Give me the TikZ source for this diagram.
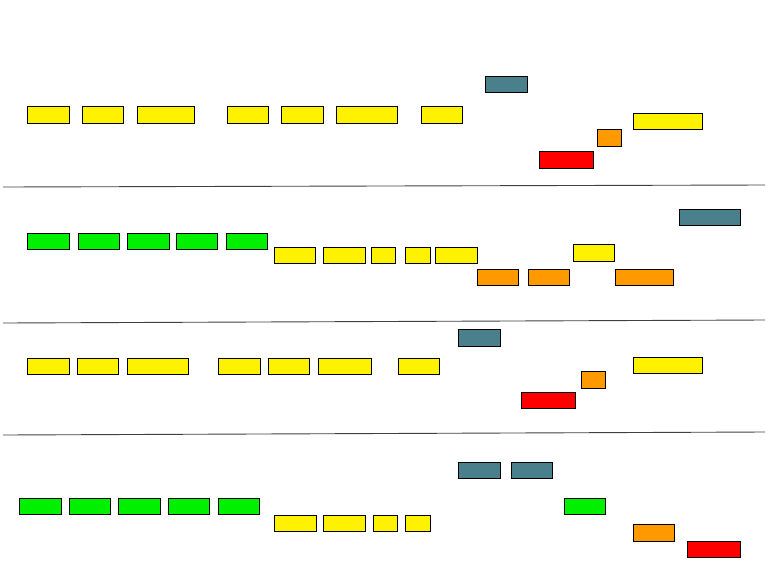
\documentclass[tikz,border=0pt]{standalone}
\definecolor{tl}{HTML}{4A7F8C}
\definecolor{og}{HTML}{FF9900}
\definecolor{gr}{HTML}{00F000}
\tikzset{bx/.style={draw=black,line width=0.6pt},sep/.style={draw=black!75,line width=0.9pt}}
\newcommand{\bx}[5]{\path[bx,fill=#1] (#2,#3) rectangle (#4,#5);}
\begin{document}
\begin{tikzpicture}[x=1pt,y=-1pt]
\useasboundingbox (0,0) rectangle (768,576);
% row 1
\foreach \a/\b in {27/69,82/123,137/194,227/268,281/323,336/397,421/462}{\bx{yellow}{\a}{106}{\b}{123}}
\bx{tl}{485}{76}{527}{92}
\bx{red}{539}{151}{593}{168}
\bx{og}{597}{129}{621}{146}
\bx{yellow}{633}{113}{702}{129}
\coordinate (l1a) at (3,187); \coordinate (l1b) at (765,185);
\draw[sep] (l1a) -- (l1b);
% row 2
\foreach \a/\b in {27/69,78/119,127/169,176/217,226/267}{\bx{gr}{\a}{233}{\b}{249}}
\foreach \a/\b in {274/315,323/365,371/395,405/430,435/477}{\bx{yellow}{\a}{247}{\b}{263}}
\foreach \a/\b in {477/518,528/569,615/673}{\bx{og}{\a}{269}{\b}{285}}
\bx{yellow}{573}{244}{614}{261}
\bx{tl}{679}{209}{740}{225}
\coordinate (l2a) at (3,323); \coordinate (l2b) at (765,320);
\draw[sep] (l2a) -- (l2b);
% row 3
\foreach \a/\b in {27/69,77/118,127/188,218/260,268/309,318/371,398/439}{\bx{yellow}{\a}{358}{\b}{374}}
\bx{tl}{458}{329}{500}{346}
\bx{red}{521}{392}{575}{408}
\bx{og}{581}{371}{605}{388}
\bx{yellow}{633}{357}{702}{373}
\coordinate (l3a) at (3,435); \coordinate (l3b) at (765,432);
\draw[sep] (l3a) -- (l3b);
% row 4
\foreach \a/\b in {19/61,69/110,118/160,168/209,218/259}{\bx{gr}{\a}{498}{\b}{514}}
\foreach \a/\b in {274/316,323/365,373/397,405/430}{\bx{yellow}{\a}{515}{\b}{531}}
\bx{tl}{458}{462}{500}{478}
\bx{tl}{511}{462}{552}{478}
\bx{gr}{564}{498}{605}{514}
\bx{og}{633}{524}{674}{541}
\bx{red}{687}{541}{740}{557}
\end{tikzpicture}
\end{document}
